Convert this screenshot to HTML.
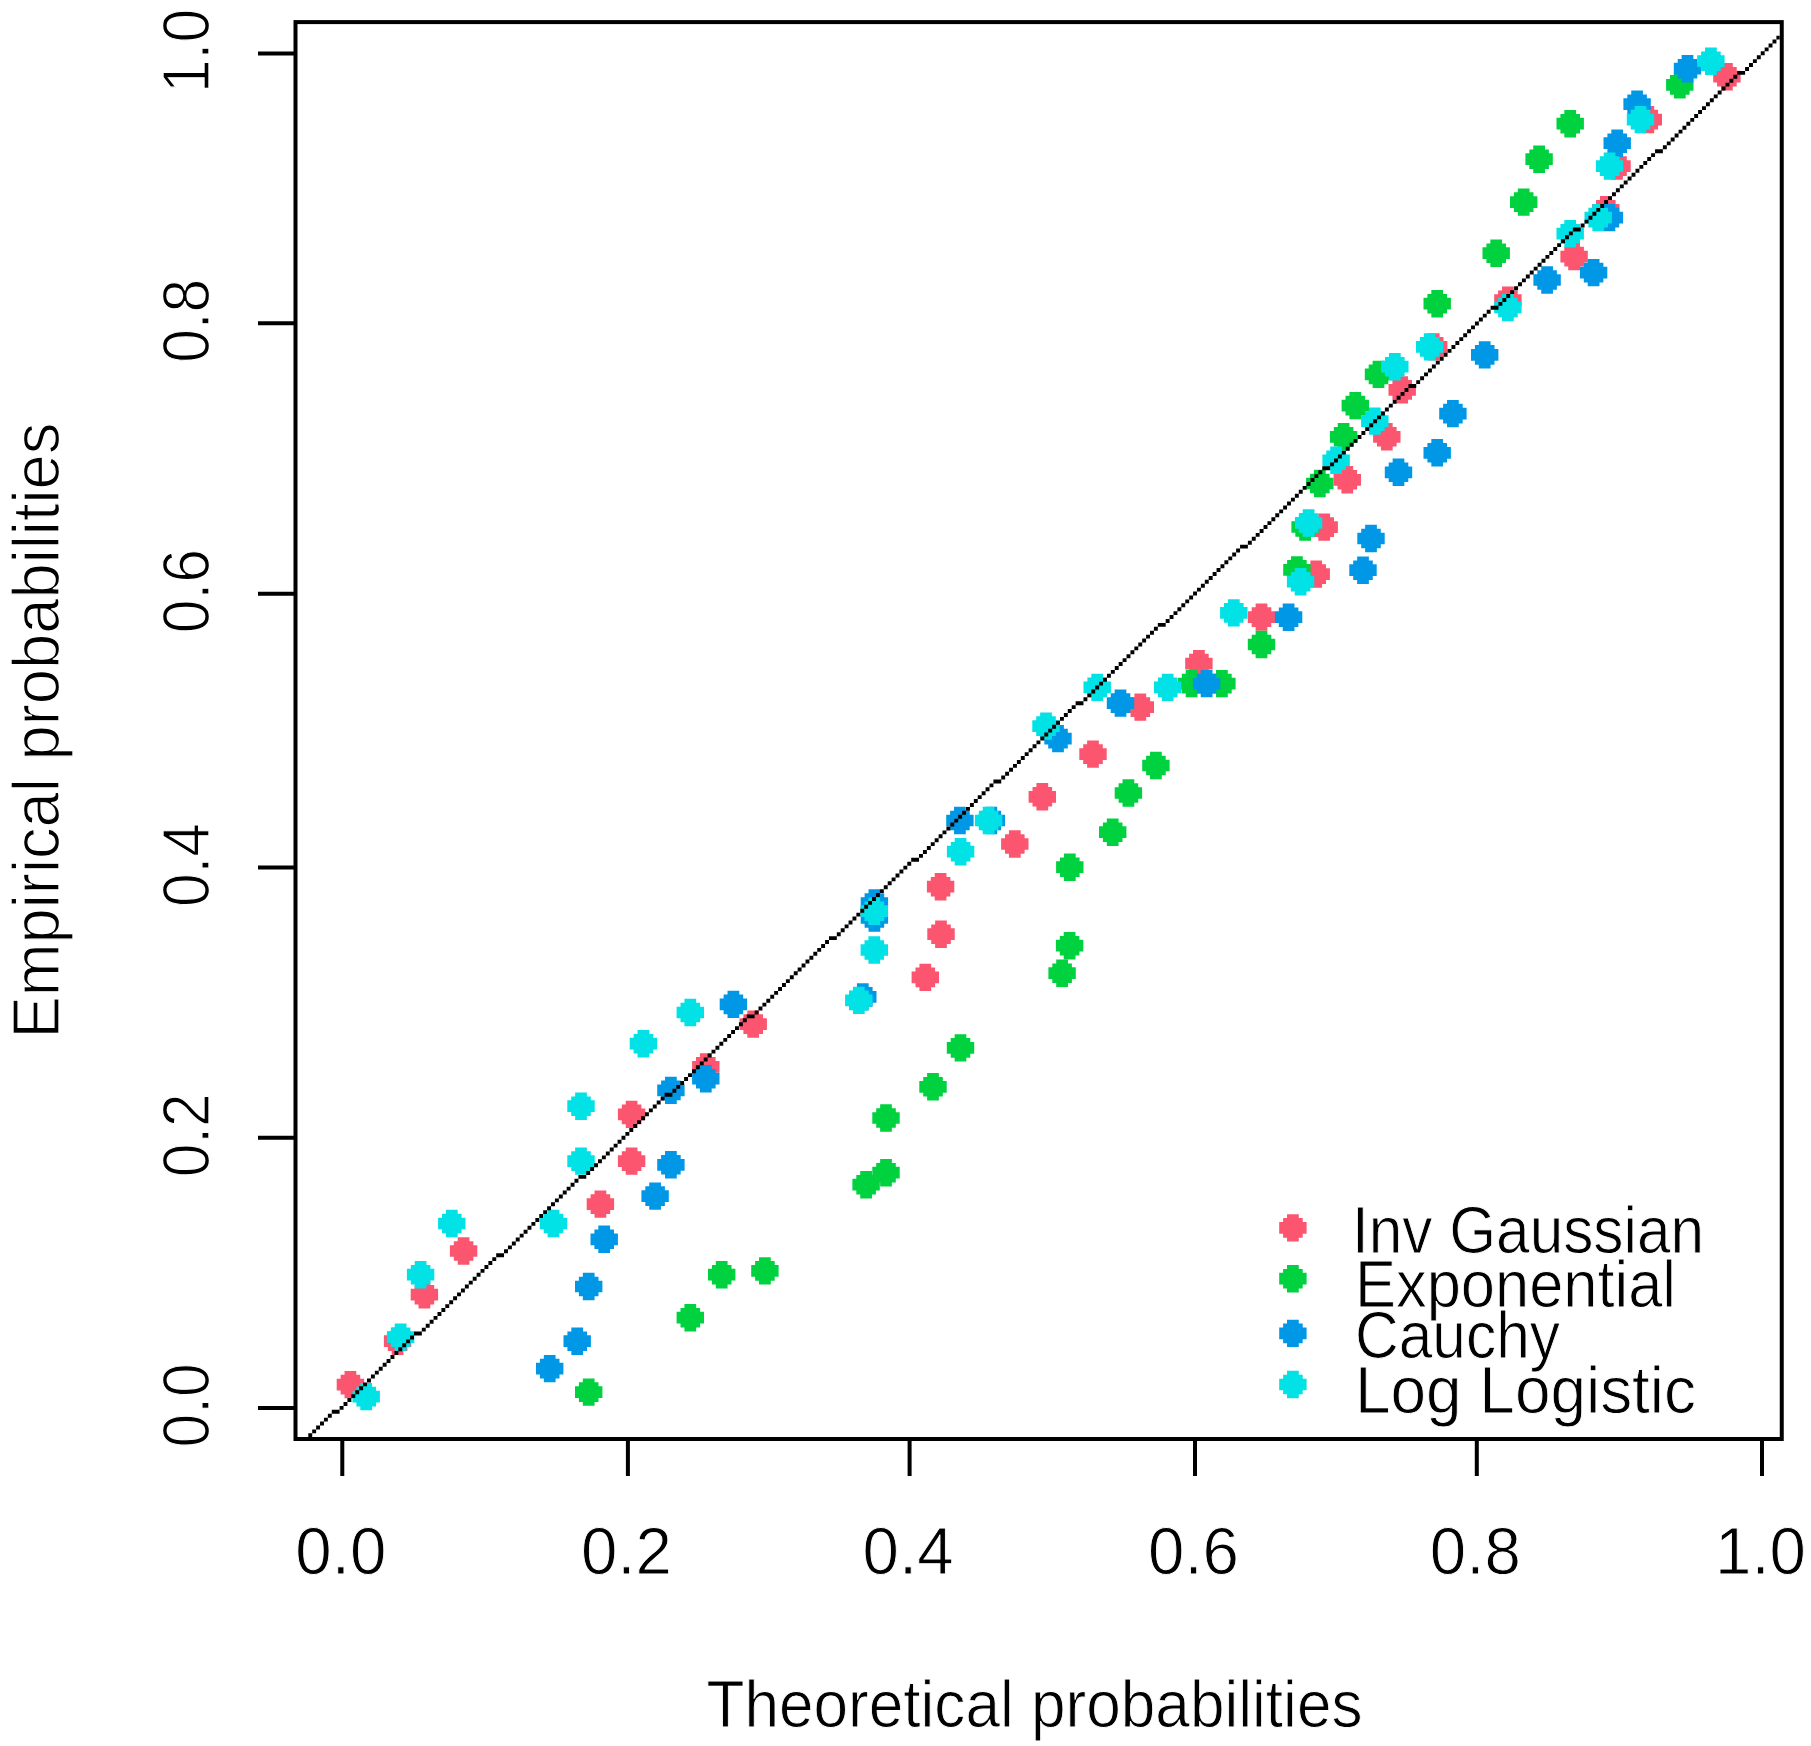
<!DOCTYPE html>
<html lang="en"><head><meta charset="utf-8"><title>P-P plot</title>
<style>html,body{margin:0;padding:0;background:#fff}svg{display:block}</style></head><body>
<svg width="1811" height="1746" viewBox="0 0 1811 1746">
<rect width="1811" height="1746" fill="#fff"/>
<defs><path id="d" d="M-5.87 -13.70L5.87 -13.70L5.87 -9.79L9.79 -9.79L9.79 -5.87L13.70 -5.87L13.70 5.87L9.79 5.87L9.79 9.79L5.87 9.79L5.87 13.70L-5.87 13.70L-5.87 9.79L-9.79 9.79L-9.79 5.87L-13.70 5.87L-13.70 -5.87L-9.79 -5.87L-9.79 -9.79L-5.87 -9.79Z"/></defs>
<g fill="#FB556F"><use href="#d" x="350.4" y="1384.6"/><use href="#d" x="397.6" y="1341.2"/><use href="#d" x="424.4" y="1294.7"/><use href="#d" x="463.6" y="1251.0"/><use href="#d" x="600.4" y="1204.1"/><use href="#d" x="631.6" y="1161.1"/><use href="#d" x="631.6" y="1114.4"/><use href="#d" x="705.8" y="1066.9"/><use href="#d" x="753.2" y="1024.1"/><use href="#d" x="925.3" y="977.4"/><use href="#d" x="941.0" y="934.2"/><use href="#d" x="940.6" y="886.7"/><use href="#d" x="1014.8" y="844.0"/><use href="#d" x="1042.3" y="796.8"/><use href="#d" x="1093.0" y="754.1"/><use href="#d" x="1140.3" y="707.1"/><use href="#d" x="1198.9" y="663.6"/><use href="#d" x="1261.5" y="617.1"/><use href="#d" x="1316.2" y="574.1"/><use href="#d" x="1324.2" y="527.1"/><use href="#d" x="1347.3" y="479.8"/><use href="#d" x="1386.8" y="436.8"/><use href="#d" x="1402.2" y="389.9"/><use href="#d" x="1433.7" y="346.9"/><use href="#d" x="1507.9" y="300.2"/><use href="#d" x="1574.1" y="256.6"/><use href="#d" x="1605.8" y="209.8"/><use href="#d" x="1617.0" y="166.1"/><use href="#d" x="1648.3" y="119.6"/><use href="#d" x="1726.9" y="76.7"/></g>
<g fill="#00D13F"><use href="#d" x="588.7" y="1392.1"/><use href="#d" x="690.3" y="1317.7"/><use href="#d" x="721.7" y="1274.7"/><use href="#d" x="764.9" y="1270.9"/><use href="#d" x="866.1" y="1184.7"/><use href="#d" x="886.0" y="1172.7"/><use href="#d" x="886.0" y="1118.0"/><use href="#d" x="933.0" y="1086.8"/><use href="#d" x="960.5" y="1047.9"/><use href="#d" x="1062.1" y="973.2"/><use href="#d" x="1069.6" y="945.7"/><use href="#d" x="1069.8" y="867.2"/><use href="#d" x="1112.7" y="832.2"/><use href="#d" x="1128.4" y="793.0"/><use href="#d" x="1155.9" y="765.5"/><use href="#d" x="1191.6" y="683.6"/><use href="#d" x="1221.9" y="683.6"/><use href="#d" x="1261.5" y="644.5"/><use href="#d" x="1296.9" y="569.9"/><use href="#d" x="1305.1" y="527.0"/><use href="#d" x="1319.8" y="483.5"/><use href="#d" x="1343.6" y="436.8"/><use href="#d" x="1355.3" y="405.6"/><use href="#d" x="1378.5" y="374.4"/><use href="#d" x="1437.2" y="303.7"/><use href="#d" x="1496.2" y="253.2"/><use href="#d" x="1523.7" y="202.1"/><use href="#d" x="1539.1" y="159.2"/><use href="#d" x="1570.2" y="123.7"/><use href="#d" x="1679.8" y="84.9"/></g>
<g fill="#0098E6"><use href="#d" x="549.7" y="1368.6"/><use href="#d" x="577.2" y="1341.2"/><use href="#d" x="588.7" y="1286.5"/><use href="#d" x="604.2" y="1239.3"/><use href="#d" x="655.1" y="1196.1"/><use href="#d" x="670.9" y="1164.8"/><use href="#d" x="670.9" y="1090.4"/><use href="#d" x="705.8" y="1078.7"/><use href="#d" x="733.4" y="1004.4"/><use href="#d" x="862.8" y="996.9"/><use href="#d" x="874.4" y="903.0"/><use href="#d" x="874.4" y="918.0"/><use href="#d" x="959.9" y="820.5"/><use href="#d" x="991.3" y="820.5"/><use href="#d" x="1058.0" y="738.6"/><use href="#d" x="1120.5" y="703.1"/><use href="#d" x="1206.6" y="683.6"/><use href="#d" x="1288.6" y="617.2"/><use href="#d" x="1363.0" y="570.2"/><use href="#d" x="1371.0" y="538.5"/><use href="#d" x="1398.5" y="472.3"/><use href="#d" x="1437.2" y="452.8"/><use href="#d" x="1452.9" y="413.6"/><use href="#d" x="1484.7" y="354.9"/><use href="#d" x="1547.1" y="280.0"/><use href="#d" x="1593.6" y="272.6"/><use href="#d" x="1609.4" y="217.6"/><use href="#d" x="1617.2" y="143.2"/><use href="#d" x="1637.1" y="104.2"/><use href="#d" x="1687.5" y="68.7"/></g>
<g fill="#00E2E6"><use href="#d" x="366.2" y="1396.6"/><use href="#d" x="400.6" y="1337.2"/><use href="#d" x="420.6" y="1274.7"/><use href="#d" x="451.8" y="1223.5"/><use href="#d" x="553.5" y="1223.5"/><use href="#d" x="581.0" y="1161.1"/><use href="#d" x="581.0" y="1106.2"/><use href="#d" x="643.4" y="1043.7"/><use href="#d" x="690.3" y="1012.5"/><use href="#d" x="858.8" y="1000.4"/><use href="#d" x="874.3" y="950.0"/><use href="#d" x="874.3" y="911.2"/><use href="#d" x="960.6" y="851.7"/><use href="#d" x="988.6" y="820.5"/><use href="#d" x="1046.0" y="726.1"/><use href="#d" x="1097.2" y="687.4"/><use href="#d" x="1167.7" y="687.4"/><use href="#d" x="1233.8" y="612.9"/><use href="#d" x="1300.6" y="581.7"/><use href="#d" x="1308.6" y="523.0"/><use href="#d" x="1336.1" y="460.3"/><use href="#d" x="1374.8" y="421.1"/><use href="#d" x="1394.8" y="366.7"/><use href="#d" x="1429.7" y="346.9"/><use href="#d" x="1507.9" y="307.5"/><use href="#d" x="1570.2" y="233.7"/><use href="#d" x="1598.2" y="217.6"/><use href="#d" x="1609.6" y="166.1"/><use href="#d" x="1640.5" y="119.6"/><use href="#d" x="1710.9" y="61.2"/></g>
<use href="#d" x="1292.9" y="1227.9" fill="#FB556F"/>
<use href="#d" x="1292.9" y="1278.7" fill="#00D13F"/>
<use href="#d" x="1292.9" y="1333.4" fill="#0098E6"/>
<use href="#d" x="1292.9" y="1384.5" fill="#00E2E6"/>
<path d="M308.29 1433.34h3.92v3.915h-3.92zM312.20 1429.42h3.92v3.915h-3.92zM316.12 1425.51h3.92v3.915h-3.92zM320.03 1421.60h3.92v3.915h-3.92zM323.94 1417.68h3.92v3.915h-3.92zM327.86 1413.77h3.92v3.915h-3.92zM331.77 1409.85h3.92v3.915h-3.92zM335.69 1409.85h3.92v3.915h-3.92zM339.61 1405.93h3.92v3.915h-3.92zM343.52 1402.02h3.92v3.915h-3.92zM347.44 1398.11h3.92v3.915h-3.92zM351.35 1394.19h3.92v3.915h-3.92zM355.26 1390.28h3.92v3.915h-3.92zM359.18 1386.36h3.92v3.915h-3.92zM363.10 1382.45h3.92v3.915h-3.92zM367.01 1378.53h3.92v3.915h-3.92zM370.93 1374.62h3.92v3.915h-3.92zM374.84 1370.70h3.92v3.915h-3.92zM378.75 1366.79h3.92v3.915h-3.92zM382.67 1362.87h3.92v3.915h-3.92zM386.58 1358.96h3.92v3.915h-3.92zM390.50 1355.04h3.92v3.915h-3.92zM394.42 1351.12h3.92v3.915h-3.92zM398.33 1347.21h3.92v3.915h-3.92zM402.25 1343.30h3.92v3.915h-3.92zM406.16 1339.38h3.92v3.915h-3.92zM410.07 1335.47h3.92v3.915h-3.92zM413.99 1331.55h3.92v3.915h-3.92zM417.91 1331.55h3.92v3.915h-3.92zM421.82 1327.63h3.92v3.915h-3.92zM425.74 1323.72h3.92v3.915h-3.92zM429.65 1319.81h3.92v3.915h-3.92zM433.56 1315.89h3.92v3.915h-3.92zM437.48 1311.98h3.92v3.915h-3.92zM441.39 1308.06h3.92v3.915h-3.92zM445.31 1304.14h3.92v3.915h-3.92zM449.23 1300.23h3.92v3.915h-3.92zM453.14 1296.32h3.92v3.915h-3.92zM457.06 1292.40h3.92v3.915h-3.92zM460.97 1288.49h3.92v3.915h-3.92zM464.88 1284.57h3.92v3.915h-3.92zM468.80 1280.65h3.92v3.915h-3.92zM472.72 1276.74h3.92v3.915h-3.92zM476.63 1272.83h3.92v3.915h-3.92zM480.55 1268.91h3.92v3.915h-3.92zM484.46 1265.00h3.92v3.915h-3.92zM488.38 1261.08h3.92v3.915h-3.92zM492.29 1257.16h3.92v3.915h-3.92zM496.20 1253.25h3.92v3.915h-3.92zM500.12 1253.25h3.92v3.915h-3.92zM504.04 1249.34h3.92v3.915h-3.92zM507.95 1245.42h3.92v3.915h-3.92zM511.87 1241.51h3.92v3.915h-3.92zM515.78 1237.59h3.92v3.915h-3.92zM519.70 1233.67h3.92v3.915h-3.92zM523.61 1229.76h3.92v3.915h-3.92zM527.52 1225.85h3.92v3.915h-3.92zM531.44 1221.93h3.92v3.915h-3.92zM535.36 1218.02h3.92v3.915h-3.92zM539.27 1214.10h3.92v3.915h-3.92zM543.19 1210.18h3.92v3.915h-3.92zM547.10 1206.27h3.92v3.915h-3.92zM551.01 1202.36h3.92v3.915h-3.92zM554.93 1198.44h3.92v3.915h-3.92zM558.85 1194.53h3.92v3.915h-3.92zM562.76 1190.61h3.92v3.915h-3.92zM566.67 1186.70h3.92v3.915h-3.92zM570.59 1182.78h3.92v3.915h-3.92zM574.50 1178.87h3.92v3.915h-3.92zM578.42 1174.95h3.92v3.915h-3.92zM582.34 1174.95h3.92v3.915h-3.92zM586.25 1171.04h3.92v3.915h-3.92zM590.16 1167.12h3.92v3.915h-3.92zM594.08 1163.21h3.92v3.915h-3.92zM598.00 1159.29h3.92v3.915h-3.92zM601.91 1155.38h3.92v3.915h-3.92zM605.83 1151.46h3.92v3.915h-3.92zM609.74 1147.55h3.92v3.915h-3.92zM613.65 1143.63h3.92v3.915h-3.92zM617.57 1139.72h3.92v3.915h-3.92zM621.49 1135.80h3.92v3.915h-3.92zM625.40 1131.88h3.92v3.915h-3.92zM629.32 1127.97h3.92v3.915h-3.92zM633.23 1124.06h3.92v3.915h-3.92zM637.14 1120.14h3.92v3.915h-3.92zM641.06 1116.23h3.92v3.915h-3.92zM644.98 1112.31h3.92v3.915h-3.92zM648.89 1108.39h3.92v3.915h-3.92zM652.80 1104.48h3.92v3.915h-3.92zM656.72 1100.57h3.92v3.915h-3.92zM660.63 1096.65h3.92v3.915h-3.92zM664.55 1092.74h3.92v3.915h-3.92zM668.47 1092.74h3.92v3.915h-3.92zM672.38 1088.82h3.92v3.915h-3.92zM676.29 1084.90h3.92v3.915h-3.92zM680.21 1080.99h3.92v3.915h-3.92zM684.12 1077.08h3.92v3.915h-3.92zM688.04 1073.16h3.92v3.915h-3.92zM691.96 1069.25h3.92v3.915h-3.92zM695.87 1065.33h3.92v3.915h-3.92zM699.78 1061.41h3.92v3.915h-3.92zM703.70 1057.50h3.92v3.915h-3.92zM707.62 1053.59h3.92v3.915h-3.92zM711.53 1049.67h3.92v3.915h-3.92zM715.45 1045.76h3.92v3.915h-3.92zM719.36 1041.84h3.92v3.915h-3.92zM723.27 1037.92h3.92v3.915h-3.92zM727.19 1034.01h3.92v3.915h-3.92zM731.11 1030.10h3.92v3.915h-3.92zM735.02 1026.18h3.92v3.915h-3.92zM738.94 1022.27h3.92v3.915h-3.92zM742.85 1018.35h3.92v3.915h-3.92zM746.76 1014.44h3.92v3.915h-3.92zM750.68 1014.44h3.92v3.915h-3.92zM754.60 1010.52h3.92v3.915h-3.92zM758.51 1006.61h3.92v3.915h-3.92zM762.42 1002.69h3.92v3.915h-3.92zM766.34 998.78h3.92v3.915h-3.92zM770.25 994.86h3.92v3.915h-3.92zM774.17 990.95h3.92v3.915h-3.92zM778.09 987.03h3.92v3.915h-3.92zM782.00 983.12h3.92v3.915h-3.92zM785.91 979.20h3.92v3.915h-3.92zM789.83 975.29h3.92v3.915h-3.92zM793.75 971.37h3.92v3.915h-3.92zM797.66 967.46h3.92v3.915h-3.92zM801.58 963.54h3.92v3.915h-3.92zM805.49 959.62h3.92v3.915h-3.92zM809.40 955.71h3.92v3.915h-3.92zM813.32 951.80h3.92v3.915h-3.92zM817.24 947.88h3.92v3.915h-3.92zM821.15 943.97h3.92v3.915h-3.92zM825.07 940.05h3.92v3.915h-3.92zM828.98 936.14h3.92v3.915h-3.92zM832.89 936.14h3.92v3.915h-3.92zM836.81 932.22h3.92v3.915h-3.92zM840.73 928.31h3.92v3.915h-3.92zM844.64 924.39h3.92v3.915h-3.92zM848.56 920.48h3.92v3.915h-3.92zM852.47 916.56h3.92v3.915h-3.92zM856.38 912.65h3.92v3.915h-3.92zM860.30 908.73h3.92v3.915h-3.92zM864.22 904.82h3.92v3.915h-3.92zM868.13 900.90h3.92v3.915h-3.92zM872.04 896.99h3.92v3.915h-3.92zM875.96 893.07h3.92v3.915h-3.92zM879.88 889.16h3.92v3.915h-3.92zM883.79 885.24h3.92v3.915h-3.92zM887.71 881.33h3.92v3.915h-3.92zM891.62 877.41h3.92v3.915h-3.92zM895.53 873.50h3.92v3.915h-3.92zM899.45 869.58h3.92v3.915h-3.92zM903.37 865.67h3.92v3.915h-3.92zM907.28 861.75h3.92v3.915h-3.92zM911.20 857.84h3.92v3.915h-3.92zM915.11 857.84h3.92v3.915h-3.92zM919.02 853.92h3.92v3.915h-3.92zM922.94 850.01h3.92v3.915h-3.92zM926.86 846.09h3.92v3.915h-3.92zM930.77 842.18h3.92v3.915h-3.92zM934.69 838.26h3.92v3.915h-3.92zM938.60 834.35h3.92v3.915h-3.92zM942.51 830.43h3.92v3.915h-3.92zM946.43 826.52h3.92v3.915h-3.92zM950.35 822.60h3.92v3.915h-3.92zM954.26 818.69h3.92v3.915h-3.92zM958.17 814.77h3.92v3.915h-3.92zM962.09 810.86h3.92v3.915h-3.92zM966.00 806.94h3.92v3.915h-3.92zM969.92 803.03h3.92v3.915h-3.92zM973.84 799.11h3.92v3.915h-3.92zM977.75 795.20h3.92v3.915h-3.92zM981.66 791.28h3.92v3.915h-3.92zM985.58 787.37h3.92v3.915h-3.92zM989.50 783.45h3.92v3.915h-3.92zM993.41 779.54h3.92v3.915h-3.92zM997.33 779.54h3.92v3.915h-3.92zM1001.24 775.62h3.92v3.915h-3.92zM1005.15 771.71h3.92v3.915h-3.92zM1009.07 767.79h3.92v3.915h-3.92zM1012.99 763.88h3.92v3.915h-3.92zM1016.90 759.96h3.92v3.915h-3.92zM1020.82 756.05h3.92v3.915h-3.92zM1024.73 752.13h3.92v3.915h-3.92zM1028.64 748.22h3.92v3.915h-3.92zM1032.56 744.30h3.92v3.915h-3.92zM1036.47 740.39h3.92v3.915h-3.92zM1040.39 736.47h3.92v3.915h-3.92zM1044.31 732.56h3.92v3.915h-3.92zM1048.22 728.64h3.92v3.915h-3.92zM1052.13 724.73h3.92v3.915h-3.92zM1056.05 720.81h3.92v3.915h-3.92zM1059.96 716.90h3.92v3.915h-3.92zM1063.88 712.98h3.92v3.915h-3.92zM1067.80 709.07h3.92v3.915h-3.92zM1071.71 705.15h3.92v3.915h-3.92zM1075.62 701.24h3.92v3.915h-3.92zM1079.54 701.24h3.92v3.915h-3.92zM1083.45 697.32h3.92v3.915h-3.92zM1087.37 693.41h3.92v3.915h-3.92zM1091.29 689.49h3.92v3.915h-3.92zM1095.20 685.58h3.92v3.915h-3.92zM1099.12 681.66h3.92v3.915h-3.92zM1103.03 677.75h3.92v3.915h-3.92zM1106.94 673.83h3.92v3.915h-3.92zM1110.86 669.92h3.92v3.915h-3.92zM1114.78 666.00h3.92v3.915h-3.92zM1118.69 662.09h3.92v3.915h-3.92zM1122.61 658.17h3.92v3.915h-3.92zM1126.52 654.25h3.92v3.915h-3.92zM1130.43 650.34h3.92v3.915h-3.92zM1134.35 646.43h3.92v3.915h-3.92zM1138.27 642.51h3.92v3.915h-3.92zM1142.18 638.60h3.92v3.915h-3.92zM1146.10 634.68h3.92v3.915h-3.92zM1150.01 630.77h3.92v3.915h-3.92zM1153.92 626.85h3.92v3.915h-3.92zM1157.84 622.94h3.92v3.915h-3.92zM1161.76 622.94h3.92v3.915h-3.92zM1165.67 619.02h3.92v3.915h-3.92zM1169.59 615.11h3.92v3.915h-3.92zM1173.50 611.19h3.92v3.915h-3.92zM1177.41 607.28h3.92v3.915h-3.92zM1181.33 603.36h3.92v3.915h-3.92zM1185.25 599.45h3.92v3.915h-3.92zM1189.16 595.53h3.92v3.915h-3.92zM1193.08 591.62h3.92v3.915h-3.92zM1196.99 587.70h3.92v3.915h-3.92zM1200.90 583.79h3.92v3.915h-3.92zM1204.82 579.87h3.92v3.915h-3.92zM1208.73 575.96h3.92v3.915h-3.92zM1212.65 572.04h3.92v3.915h-3.92zM1216.57 568.12h3.92v3.915h-3.92zM1220.48 564.21h3.92v3.915h-3.92zM1224.39 560.30h3.92v3.915h-3.92zM1228.31 556.38h3.92v3.915h-3.92zM1232.22 552.47h3.92v3.915h-3.92zM1236.14 548.55h3.92v3.915h-3.92zM1240.06 544.64h3.92v3.915h-3.92zM1243.97 544.64h3.92v3.915h-3.92zM1247.88 540.72h3.92v3.915h-3.92zM1251.80 536.81h3.92v3.915h-3.92zM1255.71 532.89h3.92v3.915h-3.92zM1259.63 528.98h3.92v3.915h-3.92zM1263.55 525.06h3.92v3.915h-3.92zM1267.46 521.15h3.92v3.915h-3.92zM1271.38 517.23h3.92v3.915h-3.92zM1275.29 513.32h3.92v3.915h-3.92zM1279.20 509.40h3.92v3.915h-3.92zM1283.12 505.49h3.92v3.915h-3.92zM1287.04 501.57h3.92v3.915h-3.92zM1290.95 497.65h3.92v3.915h-3.92zM1294.87 493.74h3.92v3.915h-3.92zM1298.78 489.82h3.92v3.915h-3.92zM1302.69 485.91h3.92v3.915h-3.92zM1306.61 482.00h3.92v3.915h-3.92zM1310.53 478.08h3.92v3.915h-3.92zM1314.44 474.17h3.92v3.915h-3.92zM1318.36 470.25h3.92v3.915h-3.92zM1322.27 466.33h3.92v3.915h-3.92zM1326.18 466.33h3.92v3.915h-3.92zM1330.10 462.42h3.92v3.915h-3.92zM1334.02 458.50h3.92v3.915h-3.92zM1337.93 454.59h3.92v3.915h-3.92zM1341.85 450.68h3.92v3.915h-3.92zM1345.76 446.76h3.92v3.915h-3.92zM1349.67 442.84h3.92v3.915h-3.92zM1353.59 438.93h3.92v3.915h-3.92zM1357.51 435.01h3.92v3.915h-3.92zM1361.42 431.10h3.92v3.915h-3.92zM1365.34 427.19h3.92v3.915h-3.92zM1369.25 423.27h3.92v3.915h-3.92zM1373.16 419.36h3.92v3.915h-3.92zM1377.08 415.44h3.92v3.915h-3.92zM1381.00 411.52h3.92v3.915h-3.92zM1384.91 407.61h3.92v3.915h-3.92zM1388.83 403.69h3.92v3.915h-3.92zM1392.74 399.78h3.92v3.915h-3.92zM1396.65 395.87h3.92v3.915h-3.92zM1400.57 391.95h3.92v3.915h-3.92zM1404.48 388.03h3.92v3.915h-3.92zM1408.40 384.12h3.92v3.915h-3.92zM1412.32 384.12h3.92v3.915h-3.92zM1416.23 380.20h3.92v3.915h-3.92zM1420.14 376.29h3.92v3.915h-3.92zM1424.06 372.38h3.92v3.915h-3.92zM1427.97 368.46h3.92v3.915h-3.92zM1431.89 364.55h3.92v3.915h-3.92zM1435.81 360.63h3.92v3.915h-3.92zM1439.72 356.71h3.92v3.915h-3.92zM1443.63 352.80h3.92v3.915h-3.92zM1447.55 348.88h3.92v3.915h-3.92zM1451.46 344.97h3.92v3.915h-3.92zM1455.38 341.06h3.92v3.915h-3.92zM1459.30 337.14h3.92v3.915h-3.92zM1463.21 333.22h3.92v3.915h-3.92zM1467.12 329.31h3.92v3.915h-3.92zM1471.04 325.39h3.92v3.915h-3.92zM1474.95 321.48h3.92v3.915h-3.92zM1478.87 317.56h3.92v3.915h-3.92zM1482.79 313.65h3.92v3.915h-3.92zM1486.70 309.74h3.92v3.915h-3.92zM1490.62 305.82h3.92v3.915h-3.92zM1494.53 305.82h3.92v3.915h-3.92zM1498.44 301.90h3.92v3.915h-3.92zM1502.36 297.99h3.92v3.915h-3.92zM1506.28 294.07h3.92v3.915h-3.92zM1510.19 290.16h3.92v3.915h-3.92zM1514.11 286.25h3.92v3.915h-3.92zM1518.02 282.33h3.92v3.915h-3.92zM1521.93 278.41h3.92v3.915h-3.92zM1525.85 274.50h3.92v3.915h-3.92zM1529.77 270.58h3.92v3.915h-3.92zM1533.68 266.67h3.92v3.915h-3.92zM1537.60 262.75h3.92v3.915h-3.92zM1541.51 258.84h3.92v3.915h-3.92zM1545.42 254.92h3.92v3.915h-3.92zM1549.34 251.01h3.92v3.915h-3.92zM1553.26 247.09h3.92v3.915h-3.92zM1557.17 243.18h3.92v3.915h-3.92zM1561.09 239.26h3.92v3.915h-3.92zM1565.00 235.35h3.92v3.915h-3.92zM1568.91 231.44h3.92v3.915h-3.92zM1572.83 227.52h3.92v3.915h-3.92zM1576.75 227.52h3.92v3.915h-3.92zM1580.66 223.60h3.92v3.915h-3.92zM1584.58 219.69h3.92v3.915h-3.92zM1588.49 215.77h3.92v3.915h-3.92zM1592.40 211.86h3.92v3.915h-3.92zM1596.32 207.94h3.92v3.915h-3.92zM1600.24 204.03h3.92v3.915h-3.92zM1604.15 200.11h3.92v3.915h-3.92zM1608.07 196.20h3.92v3.915h-3.92zM1611.98 192.28h3.92v3.915h-3.92zM1615.89 188.37h3.92v3.915h-3.92zM1619.81 184.45h3.92v3.915h-3.92zM1623.72 180.54h3.92v3.915h-3.92zM1627.64 176.62h3.92v3.915h-3.92zM1631.56 172.71h3.92v3.915h-3.92zM1635.47 168.79h3.92v3.915h-3.92zM1639.38 164.88h3.92v3.915h-3.92zM1643.30 160.97h3.92v3.915h-3.92zM1647.21 157.05h3.92v3.915h-3.92zM1651.13 153.13h3.92v3.915h-3.92zM1655.05 149.22h3.92v3.915h-3.92zM1658.96 149.22h3.92v3.915h-3.92zM1662.88 145.30h3.92v3.915h-3.92zM1666.79 141.39h3.92v3.915h-3.92zM1670.70 137.47h3.92v3.915h-3.92zM1674.62 133.56h3.92v3.915h-3.92zM1678.54 129.64h3.92v3.915h-3.92zM1682.45 125.73h3.92v3.915h-3.92zM1686.37 121.81h3.92v3.915h-3.92zM1690.28 117.90h3.92v3.915h-3.92zM1694.19 113.98h3.92v3.915h-3.92zM1698.11 110.07h3.92v3.915h-3.92zM1702.03 106.16h3.92v3.915h-3.92zM1705.94 102.24h3.92v3.915h-3.92zM1709.86 98.33h3.92v3.915h-3.92zM1713.77 94.41h3.92v3.915h-3.92zM1717.68 90.50h3.92v3.915h-3.92zM1721.60 86.58h3.92v3.915h-3.92zM1725.52 82.67h3.92v3.915h-3.92zM1729.43 78.75h3.92v3.915h-3.92zM1733.35 74.84h3.92v3.915h-3.92zM1737.26 70.92h3.92v3.915h-3.92zM1741.17 70.92h3.92v3.915h-3.92zM1745.09 67.01h3.92v3.915h-3.92zM1749.01 63.09h3.92v3.915h-3.92zM1752.92 59.18h3.92v3.915h-3.92zM1756.84 55.26h3.92v3.915h-3.92zM1760.75 51.35h3.92v3.915h-3.92zM1764.66 47.43h3.92v3.915h-3.92zM1768.58 43.52h3.92v3.915h-3.92zM1772.50 39.60h3.92v3.915h-3.92zM1776.41 35.69h3.29v3.915h-3.29z" fill="#000"/>
<rect x="295.5" y="22.1" width="1486.25" height="1416.9" fill="none" stroke="#000" stroke-width="4"/>
<path d="M342.3 1439.0V1476M627.9 1439.0V1476M909.6 1439.0V1476M1195.0 1439.0V1476M1476.8 1439.0V1476M1762.0 1439.0V1476M295.5 1407.9H258M295.5 1137.8H258M295.5 867.6H258M295.5 593.7H258M295.5 323.3H258M295.5 53.5H258" stroke="#000" stroke-width="4" fill="none"/>
<g font-family="Liberation Sans, Arial, sans-serif" font-size="67" fill="#000" text-anchor="middle" stroke="#fff" stroke-width="0.9">
<text x="340.8" y="1574" textLength="91" lengthAdjust="spacingAndGlyphs">0.0</text>
<text x="626.4" y="1574" textLength="91" lengthAdjust="spacingAndGlyphs">0.2</text>
<text x="908.1" y="1574" textLength="91" lengthAdjust="spacingAndGlyphs">0.4</text>
<text x="1193.5" y="1574" textLength="91" lengthAdjust="spacingAndGlyphs">0.6</text>
<text x="1475.3" y="1574" textLength="91" lengthAdjust="spacingAndGlyphs">0.8</text>
<text x="1760.5" y="1574" textLength="91" lengthAdjust="spacingAndGlyphs">1.0</text>
<text transform="translate(208.5 1405.4) rotate(-90)" textLength="84" lengthAdjust="spacingAndGlyphs" stroke-width="1.3">0.0</text>
<text transform="translate(208.5 1135.3) rotate(-90)" textLength="84" lengthAdjust="spacingAndGlyphs" stroke-width="1.3">0.2</text>
<text transform="translate(208.5 865.1) rotate(-90)" textLength="84" lengthAdjust="spacingAndGlyphs" stroke-width="1.3">0.4</text>
<text transform="translate(208.5 591.2) rotate(-90)" textLength="84" lengthAdjust="spacingAndGlyphs" stroke-width="1.3">0.6</text>
<text transform="translate(208.5 320.8) rotate(-90)" textLength="84" lengthAdjust="spacingAndGlyphs" stroke-width="1.3">0.8</text>
<text transform="translate(208.5 51.0) rotate(-90)" textLength="84" lengthAdjust="spacingAndGlyphs" stroke-width="1.3">1.0</text>
<text x="1034.5" y="1727" textLength="656" lengthAdjust="spacingAndGlyphs">Theoretical probabilities</text>
<text transform="translate(59 730.5) rotate(-90)" textLength="616" lengthAdjust="spacingAndGlyphs" stroke-width="1.3">Empirical probabilities</text>
</g>
<g font-family="Liberation Sans, Arial, sans-serif" font-size="67" fill="#000" stroke="#fff" stroke-width="0.9">
<text x="1352" y="1253" textLength="352" lengthAdjust="spacingAndGlyphs">Inv Gaussian</text>
<text x="1355" y="1307" textLength="321" lengthAdjust="spacingAndGlyphs">Exponential</text>
<text x="1355" y="1358" textLength="205" lengthAdjust="spacingAndGlyphs">Cauchy</text>
<text x="1355" y="1412.5" textLength="341" lengthAdjust="spacingAndGlyphs">Log Logistic</text>
</g>
</svg></body></html>
